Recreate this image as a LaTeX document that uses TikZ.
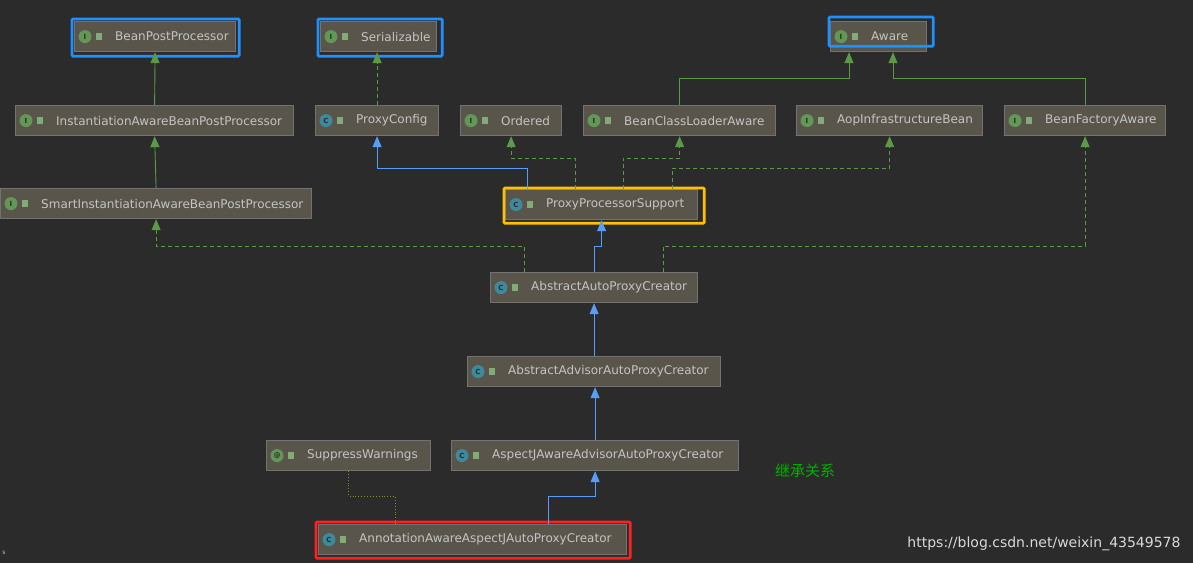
\documentclass[tikz,border=0pt]{standalone}
\usepackage{fontspec}
\setmainfont{DejaVu Sans}
\newfontfamily\cjk{Noto Sans CJK SC}
\usetikzlibrary{arrows.meta}
\definecolor{bg}{HTML}{2B2B2B}
\definecolor{boxfill}{HTML}{59554A}
\definecolor{boxline}{HTML}{727272}
\definecolor{txt}{HTML}{C4C4C4}
\definecolor{igreen}{HTML}{629755}
\definecolor{iteal}{HTML}{3D8A9E}
\definecolor{egreen}{HTML}{5D9A48}
\definecolor{eblue}{HTML}{589DF6}
\definecolor{dotol}{HTML}{8C8C1E}
\definecolor{fblue}{HTML}{1E90FF}
\definecolor{fyellow}{HTML}{FFC000}
\definecolor{fred}{HTML}{FF2020}
\tikzset{
  box/.style={draw=boxline, fill=boxfill, minimum height=30, inner sep=0, line width=1.2},
  ico/.style={circle, minimum size=13, inner sep=0, text=bg, font=\fontsize{7}{7}\selectfont\bfseries},
  icoI/.style={ico, fill=igreen},
  icoC/.style={ico, fill=iteal},
  lock/.style={fill=igreen!80, minimum width=6, minimum height=7, inner sep=0},
  lbl/.style={anchor=west, text=txt, inner sep=0, font=\fontsize{12}{13}\selectfont},
  inh/.style={egreen, line width=0.9, -{Triangle[width=9, length=11]}},
  impl/.style={inh, dash pattern=on 4 off 3},
  ext/.style={eblue, line width=0.9, -{Triangle[width=9, length=11]}},
  frame/.style={line width=2.6, rounded corners=1}
}
% box: name, x1, x2, y1, icon style, icon letter, text
\newcommand\umlbox[7]{%
  \node[box, minimum width=#3-#2, anchor=north west] (#1) at (#2,#4) {};
  \node[#5] at ([xshift=11]#1.west) {#6};
  \node[lock] at ([xshift=25]#1.west) {};
  \node[lbl] at ([xshift=41]#1.west) {#7};}
\begin{document}
\begin{tikzpicture}[x=1pt, y=-1pt]
  \fill[bg] (0,0) rectangle (1193,563);
  \useasboundingbox (0,0) rectangle (1193,563);

  % top row
  \umlbox{bpp}{74}{235}{21}{icoI}{I}{BeanPostProcessor}
  \umlbox{ser}{320}{436}{21}{icoI}{I}{Serializable}
  \umlbox{aware}{830}{926}{21}{icoI}{I}{Aware}

  % second row
  \umlbox{inst}{15}{293}{105}{icoI}{I}{InstantiationAwareBeanPostProcessor}
  \umlbox{cfg}{315}{438}{105}{icoC}{C}{ProxyConfig}
  \umlbox{ord}{460}{561}{105}{icoI}{I}{Ordered}
  \umlbox{bcla}{583}{775}{105}{icoI}{I}{BeanClassLoaderAware}
  \umlbox{aop}{796}{982}{105}{icoI}{I}{AopInfrastructureBean}
  \umlbox{bfa}{1004}{1165}{105}{icoI}{I}{BeanFactoryAware}

  % third row
  \umlbox{smart}{0}{311}{188}{icoI}{I}{SmartInstantiationAwareBeanPostProcessor}
  \umlbox{pps}{505}{697}{189}{icoC}{C}{ProxyProcessorSupport}

  % creators
  \umlbox{aapc}{490}{697}{272}{icoC}{C}{AbstractAutoProxyCreator}
  \umlbox{adv}{467}{720}{356}{icoC}{C}{AbstractAdvisorAutoProxyCreator}
  \umlbox{sw}{266}{430}{440}{icoI}{@}{SuppressWarnings}
  \umlbox{aspj}{451}{738}{440}{icoC}{C}{AspectJAwareAdvisorAutoProxyCreator}
  \umlbox{anno}{318}{626}{524}{icoC}{C}{AnnotationAwareAspectJAutoProxyCreator}

  % frames
  \draw[frame, fblue] ([shift={(-2,-2)}]bpp.north west) rectangle ([shift={(3,4)}]bpp.south east);
  \draw[frame, fblue] ([shift={(-2,-2)}]ser.north west) rectangle ([shift={(5,4)}]ser.south east);
  \draw[frame, fblue] ([shift={(-1,-4)}]aware.north west) rectangle ([shift={(6,-6)}]aware.south east);
  \draw[frame, fyellow] ([shift={(-1,-1)}]pps.north west) rectangle ([shift={(6,3)}]pps.south east);
  \draw[frame, fred] ([shift={(-2,-2)}]anno.north west) rectangle ([shift={(3,3)}]anno.south east);

  % connectors
  \draw[inh] (inst.north) -- (bpp.south);
  \draw[inh] (smart.north) -- (inst.south);
  \draw[impl] (cfg.north) -- (cfg.north |- ser.south);
  \draw[ext] ([xshift=22]pps.north west) -- ++(0,-21) -| (cfg.south);
  \draw[impl] ([xshift=70]pps.north west) -- ++(0,-31) -| (ord.south);
  \draw[impl] ([xshift=118]pps.north west) -- ++(0,-31) -| (bcla.south);
  \draw[impl] ([xshift=167]pps.north west) -- ++(0,-21) -| (aop.south);
  \draw[inh] (bcla.north) -- ++(0,-27) -| ([xshift=19]aware.south west);
  \draw[inh] (bfa.north) -- ++(0,-27) -| ([xshift=63]aware.south west);
  \draw[ext] ([xshift=104]aapc.north west) -- ++(0,-26) -| (pps.south);
  \draw[impl] ([xshift=34]aapc.north west) -- ++(0,-26) -| (smart.south);
  \draw[impl] ([xshift=173]aapc.north west) -- ++(0,-26) -| (bfa.south);
  \draw[ext] (adv.north) -- (adv.north |- aapc.south);
  \draw[ext] (aspj.north) -- (aspj.north |- adv.south);
  \draw[ext] ([xshift=230]anno.north west) -- ++(0,-28) -| (aspj.south);
  \draw[dotol, line width=0.9, dotted] ([xshift=77]anno.north west) -- ++(0,-28) -| (sw.south);

  % notes
  \node[text=green!70!black, font=\cjk\fontsize{15}{16}\selectfont] (note) at (805,471) {继承关系};
  \node[text=white!85!black, font=\fontsize{14}{15}\selectfont, anchor=east] (url) at (1184,544) {https://blog.csdn.net/weixin\_43549578};
  \node[text=txt, font=\fontsize{6}{6}\selectfont] (s) at (4,553) {s};
\end{tikzpicture}
\end{document}
